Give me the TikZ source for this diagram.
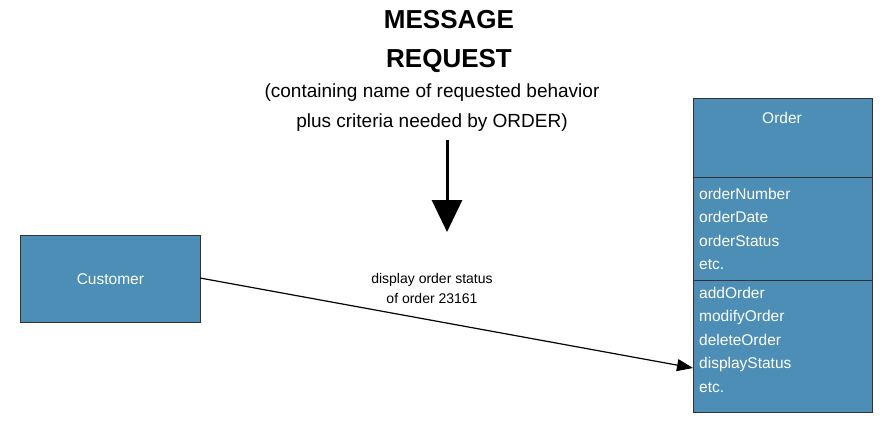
\documentclass[tikz,border=0pt]{standalone}
\usepackage{fontspec}
\setmainfont{Liberation Sans}
\usetikzlibrary{arrows.meta}
\begin{document}
\begin{tikzpicture}[x=1pt,y=-1pt,
  cls/.style={draw=black!80,line width=0.8pt,fill=boxblue},
  wt/.style={text=white,font=\fontsize{15.5}{23.5}\selectfont,align=left,anchor=north west,inner sep=0pt}]
\definecolor{boxblue}{HTML}{4C8EB5}
\useasboundingbox (0,0) rectangle (894,442);
\node[cls,minimum width=180pt,minimum height=87pt,anchor=north west,inner sep=0pt] (cust) at (20,235) {};
\node[text=white,font=\fontsize{15.5}{18}\selectfont] at (cust.center) {Customer};
\node[cls,minimum width=179pt,minimum height=314pt,anchor=north west,inner sep=0pt] (ord) at (693,98) {};
\draw[black!80,line width=0.8pt] (693,177) -- (872,177) (693,280) -- (872,280);
\node[text=white,font=\fontsize{15.5}{18}\selectfont] at (782,118) {Order};
\node[wt] at (699,188) {orderNumber\\orderDate\\orderStatus\\etc.};
\node[wt] at (699,287) {addOrder\\modifyOrder\\deleteOrder\\displayStatus\\etc.};
\node[font=\bfseries\fontsize{26}{39}\selectfont,align=center] (title) at (449,41) {MESSAGE\\REQUEST};
\node[font=\fontsize{19}{30}\selectfont,align=center] (sub) at (432,108) {(containing name of requested behavior\\plus criteria needed by ORDER)};
\coordinate (a1) at (447,140);
\coordinate (a2) at (447,232);
\draw[line width=3pt,-{Triangle[width=30pt,length=32pt]}] (a1) -- (a2);
\coordinate (s) at (200,278);
\coordinate (e) at (693,368);
\draw[line width=1.2pt,-{Triangle[width=12pt,length=16pt]}] (s) -- (e);
\node[font=\fontsize{14}{20}\selectfont,align=center] at (432,288) {display order status\\of order 23161};
\end{tikzpicture}
\end{document}
